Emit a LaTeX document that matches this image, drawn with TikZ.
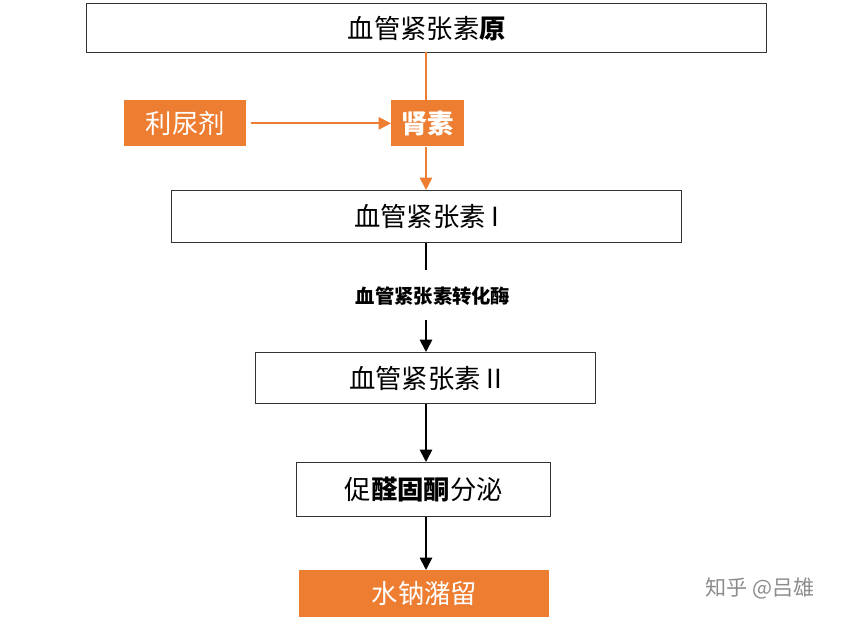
\documentclass[tikz,border=0pt]{standalone}
\usepackage{fontspec}
\setmainfont{Noto Sans CJK SC}
\newfontfamily\cjkb{Noto Sans CJK SC Bold}
\usetikzlibrary{arrows.meta}
\definecolor{org}{HTML}{ED7D31}
\tikzset{
 box/.style={draw=black!80,line width=0.8pt,anchor=north west,inner sep=0pt,font=\fontsize{15}{18}\selectfont},
 obox/.style={fill=org,draw=none,anchor=north west,inner sep=0pt,text=white,font=\fontsize{15}{18}\selectfont},
 oarr/.style={draw=org,line width=1pt,-{Triangle[length=7pt,width=7pt]}},
 barr/.style={draw=black,line width=1pt,-{Triangle[length=7pt,width=7pt]}}
}
\begin{document}
\begin{tikzpicture}[x=0.02cm,y=-0.02cm]
\useasboundingbox (0,0) rectangle (848,621);
\node[box,minimum width=680*0.02cm,minimum height=49*0.02cm] (t) at (86,3) {血管紧张素\textbf{原}};
\node[obox,minimum width=122*0.02cm,minimum height=46*0.02cm] (l) at (124,100) {利尿剂};
\node[obox,minimum width=73*0.02cm,minimum height=46*0.02cm,font=\fontsize{15}{18}\bfseries] (r) at (391,100) {肾素};
\node[box,minimum width=510*0.02cm,minimum height=52*0.02cm] (a1) at (171,190) {血管紧张素 I};
\node[font=\fontsize{11}{13}\bfseries] (ace) at (433,296) {血管紧张素转化酶};
\node[box,minimum width=340*0.02cm,minimum height=51*0.02cm] (a2) at (255,352) {血管紧张素 II};
\node[box,minimum width=254*0.02cm,minimum height=54*0.02cm] (p) at (296,462) {促\textbf{醛固酮}分泌};
\node[obox,minimum width=250*0.02cm,minimum height=47*0.02cm] (w) at (299,570) {水钠潴留};
\node[text=black!45,font=\fontsize{12}{14}\selectfont] (wm) at (760,588) {知乎 @吕雄};
\draw[draw=org,line width=1pt] (426,52) -- (r.north-|426,0);
\draw[oarr] (l.east)++(4,0) -- (r.west);
\draw[oarr] (r.south-|426,0) -- (a1.north-|426,0);
\draw[line width=1pt] (a1.south-|426,0) -- (426,270);
\draw[barr] (426,320) -- (a2.north-|426,0);
\draw[barr] (a2.south-|426,0) -- (p.north-|426,0);
\draw[barr] (p.south-|426,0) -- (w.north-|426,0);
\end{tikzpicture}
\end{document}
